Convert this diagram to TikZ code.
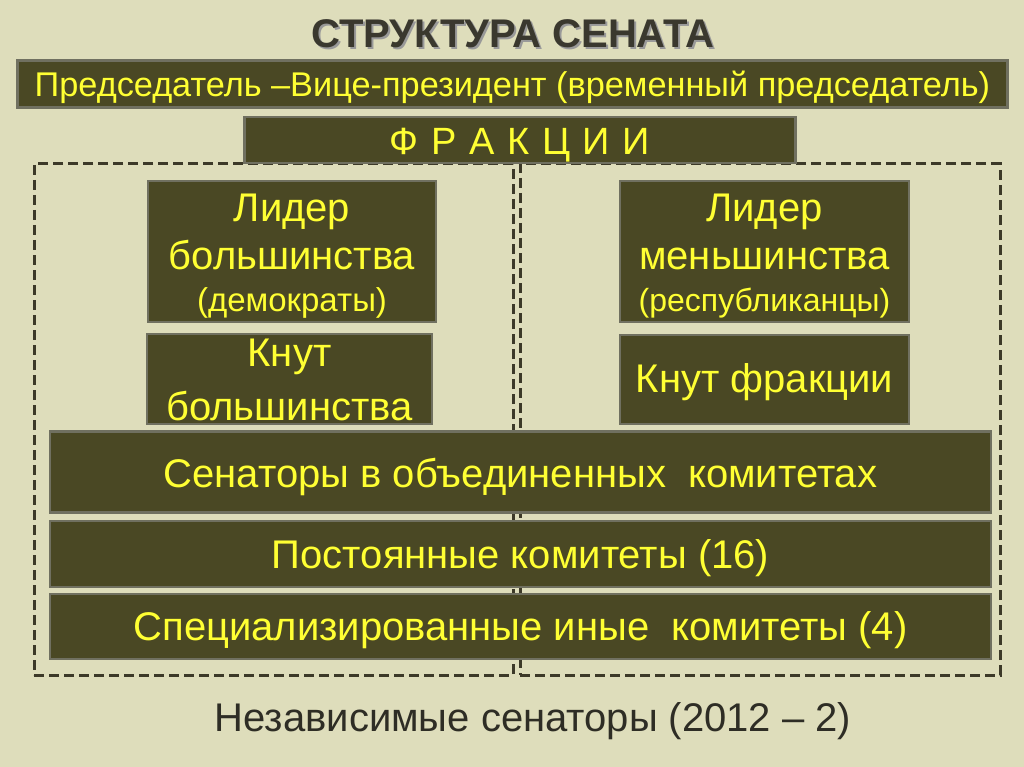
\documentclass[tikz,border=0pt]{standalone}
\usepackage{fontspec}
\setmainfont{Liberation Sans}
\definecolor{bg}{RGB}{222,221,187}
\definecolor{boxfill}{RGB}{74,72,36}
\definecolor{boxline}{RGB}{112,112,96}
\definecolor{ytext}{RGB}{255,255,51}
\definecolor{dark}{RGB}{58,56,46}
\definecolor{dashc}{RGB}{60,57,40}
\begin{document}
\begin{tikzpicture}[x=1pt,y=-1pt,
  box/.style={draw=boxline, line width=2.5pt, fill=boxfill, text=ytext, inner sep=0pt, align=center},
  group/.style={draw=dashc, line width=3pt, dash pattern=on 10pt off 5pt},
  big/.style={font=\fontsize{40}{46}\selectfont},
  oneline/.style={text height=#1, text depth=8pt}]
\useasboundingbox[fill=bg] (0,0) rectangle (1024,767);
% title
\node[text=black!40, font=\bfseries\fontsize{40}{42}\selectfont] (titleshadow) at (515,36) {СТРУКТУРА СЕНАТА};
\node[text=dark, font=\bfseries\fontsize{40}{42}\selectfont] (title) at (513,34) {СТРУКТУРА СЕНАТА};
% chairman
\node[box, oneline=34pt, minimum width=990pt, minimum height=47pt, font=\fontsize{34.3}{38}\selectfont] (chair) at (512.5,84) {Председатель –Вице-президент (временный председатель)};
% dashed groups
\node[group, minimum width=479pt, minimum height=511pt] (leftgroup) at (273.5,419.5) {};
\node[group, minimum width=480pt, minimum height=511pt] (rightgroup) at (760,419.5) {};
% fractions
\node[box, oneline=38pt, minimum width=551pt, minimum height=46pt, font=\fontsize{38}{40}\selectfont] (fract) at (520,140) {Ф\,\,Р\,\,А\,\,К\,\,Ц\,\,И\,\,И};
% leaders
\node[box, minimum width=288pt, minimum height=141pt, big] (majlead) at (292,251.5) {\rule{0pt}{37pt}Лидер\\[2pt]большинства\\[-4pt]{\fontsize{33}{38}\selectfont (демократы)}};
\node[box, minimum width=289pt, minimum height=141pt, big] (minlead) at (764.5,251.5) {\rule{0pt}{37pt}Лидер\\[2pt]меньшинства\\[-4pt]{\fontsize{32}{38}\selectfont (республиканцы)}};
% whips
\node[box, minimum width=285pt, minimum height=90pt, big] (majwhip) at (289.5,379) {\rule{0pt}{32pt}Кнут\\[8pt]большинства\rule[-4pt]{0pt}{4pt}};
\node[box, oneline=34pt, minimum width=289pt, minimum height=89pt, big] (minwhip) at (764.5,379.5) {Кнут фракции};
% committees
\node[box, oneline=38pt, minimum width=941pt, minimum height=81pt, big] (joint) at (520.5,472) {Сенаторы в объединенных\ \ комитетах};
\node[box, oneline=36pt, minimum width=941pt, minimum height=66pt, big] (standing) at (520.5,554) {Постоянные комитеты (16)};
\node[box, oneline=36pt, minimum width=941pt, minimum height=65pt, big] (special) at (520.5,626.5) {Специализированные иные\ \ комитеты (4)};
% independents
\node[text=dark!80!black, font=\fontsize{40}{44}\selectfont] (indep) at (533,721) {Независимые сенаторы (2012 – 2)};
\end{tikzpicture}
\end{document}
